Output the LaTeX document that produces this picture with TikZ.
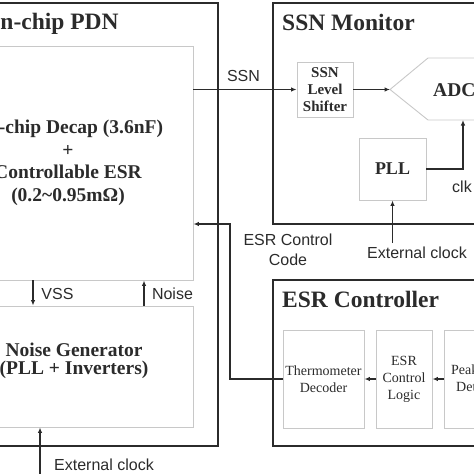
\documentclass[tikz,border=0pt]{standalone}
\usepackage{fontspec}
\setmainfont{Liberation Serif}
\setsansfont{Liberation Sans}
\usetikzlibrary{arrows.meta}
\definecolor{ink}{HTML}{2B2B2B}
\definecolor{frame}{HTML}{C8C8C8}

\begin{document}
\begin{tikzpicture}[
	x=1pt, y=-1pt,
	outer/.style={draw=ink, line width=1.8pt, inner sep=0pt},
	unit/.style={draw=frame, line width=0.9pt, inner sep=0pt, text=ink, align=center},
	title/.style={font=\fontsize{23.5}{27}\selectfont\bfseries, text=ink, inner sep=0pt},
	big/.style={font=\fontsize{19.5}{22.5}\selectfont\bfseries, text=ink, align=center},
	small/.style={font=\fontsize{14}{17}\selectfont, text=ink},
	smallbold/.style={font=\fontsize{15}{17}\selectfont\bfseries, text=ink},
	lbl/.style={font=\sffamily\fontsize{16}{20}\selectfont, text=ink, inner sep=0pt, align=center},
	arr/.style={draw=ink, line width=1.6pt, -{Latex[length=5.5pt,width=4.5pt]}}
]
	\useasboundingbox (0,0) rectangle (474,474);
	\clip (0,0) rectangle (474,474);

	\node[outer, minimum width=298pt, minimum height=443pt] (pdn) at (69,224.5) {};
	\node[outer, minimum width=247pt, minimum height=221pt] (mon) at (396.5,113.5) {};
	\node[outer, minimum width=247pt, minimum height=166pt] (ctrl) at (396.5,363) {};

	\node[title, anchor=base west] (pdnT) at (-18,29.5) {On-chip PDN};
	\node[title, anchor=base west] (monT) at (282,30) {SSN Monitor};
	\node[title, anchor=base west] (ctrlT) at (282,307.5) {ESR Controller};

	\node[unit, big, minimum width=250pt, minimum height=234pt] (decap) at (68,163) {On-chip Decap (3.6nF)\\+\\Controllable ESR\\(0.2\textasciitilde0.95mΩ)};
	\node[unit, minimum width=238pt, minimum height=121pt] (noise) at (74,366.5) {};
	\node[big, font=\fontsize{19.5}{18.5}\selectfont\bfseries] (noiseT) at (74,361) {Noise Generator\\(PLL + Inverters)};

	\node[unit, smallbold, minimum width=56pt, minimum height=55pt] (shifter) at (325,89.5) {SSN\\Level\\Shifter};
	\node[unit, smallbold, font=\fontsize{18}{20}\selectfont\bfseries, minimum width=67pt, minimum height=62pt] (pll) at (392.5,169) {PLL};
	\draw[draw=frame, line width=0.9pt] (390,89.5) coordinate (adctip) -- (428,58) -- (530,58) -- (545,89.5) -- (530,120) -- (428,120) -- cycle;
	\node[big, anchor=west, inner sep=0pt] (adc) at (433,90) {ADC};

	\node[unit, small, minimum width=81pt, minimum height=98pt] (therm) at (323.5,379) {Thermometer\\Decoder};
	\node[unit, small, minimum width=56pt, minimum height=98pt] (logic) at (404,379) {ESR\\Control\\Logic};
	\node[unit, minimum width=76pt, minimum height=98pt] (peak) at (482,379) {};
	\node[small, anchor=west, align=left, inner sep=0pt] (peakT) at (451,378) {Peak\\\hspace*{5pt}Detector};

	\coordinate (esrbend) at (230,224);
	\coordinate (adcbot) at (463,120);
	\coordinate (pllin) at (392.5,243);
	\coordinate (clkin) at (40,480);
	\coordinate (vss) at (33,0);
	\coordinate (nz) at (144,0);

	\draw[arr] (decap.east |- adctip) -- (shifter.west);
	\draw[arr] (shifter.east) -- (adctip);
	\draw[arr] (pll.east) -| (adcbot);
	\draw[arr] (pllin) -- (pll.south);
	\draw[arr] (therm.west) -| (esrbend) -- (esrbend -| decap.east);
	\draw[arr] (logic.west) -- (therm.east);
	\draw[arr] (peak.west) -- (logic.east);
	\draw[arr] (decap.south -| vss) -- (noise.north -| vss);
	\draw[arr] (noise.north -| nz) -- (decap.south -| nz);
	\draw[arr] (clkin) -- (clkin |- noise.south);

	\node[lbl] (ssnL) at (243.5,76) {SSN};
	\node[lbl] (codeL) at (288,250) {ESR Control\\Code};
	\node[lbl] (clkL) at (462,187) {clk};
	\node[lbl] (extL) at (417,253) {External clock};
	\node[lbl] (ext2L) at (104,465) {External clock};
	\node[lbl] (vssL) at (57.5,294) {VSS};
	\node[lbl] (noiseL) at (172.5,294) {Noise};
\end{tikzpicture}
\end{document}
